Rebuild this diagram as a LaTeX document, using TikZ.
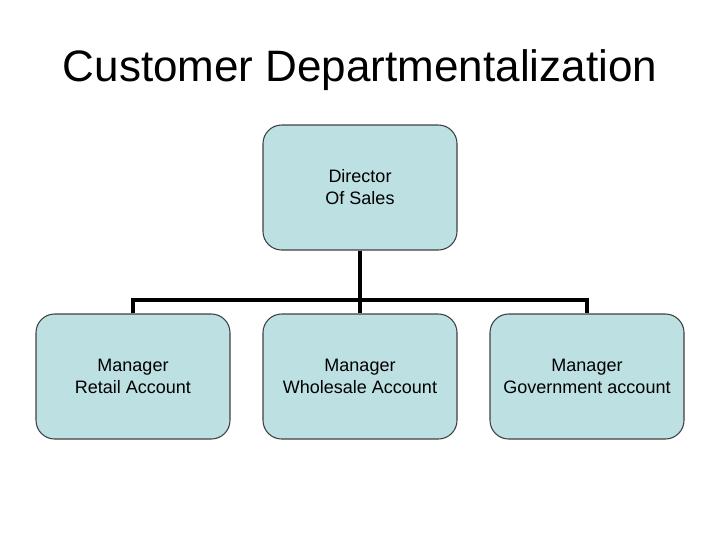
\documentclass[tikz,border=0pt]{standalone}
\usepackage{fontspec}
\setmainfont{Liberation Sans}
\usetikzlibrary{positioning}
\definecolor{boxfill}{HTML}{BDE0E3}
\definecolor{boxline}{HTML}{404040}
\tikzset{
  unit/.style={draw=boxline, fill=boxfill, line width=0.8pt, rounded corners=14pt,
    minimum width=194*0.75pt, minimum height=125*0.75pt, align=center,
    font=\fontsize{13.5}{16.5}\selectfont, inner sep=1pt},
  link/.style={draw=black, line width=3pt},
}
\begin{document}
\begin{tikzpicture}[x=0.75pt,y=-0.75pt]
  \useasboundingbox (0,0) rectangle (720,540);
  \node[font=\fontsize{33}{38}\selectfont] (title) at (360,70) {Customer Departmentalization};

  \node[unit] (dir) at (360,187.5) {Director\\Of Sales};
  \node[unit] (retail) at (133,376.5) {Manager\\Retail Account};
  \node[unit] (whole) at (360,376.5) {Manager\\Wholesale Account};
  \node[unit] (gov) at (587,376.5) {Manager\\Government account};

  \coordinate (bus) at (360,300);
  \draw[link] (dir.south) -- (bus);
  \foreach \n in {retail,whole,gov}
    \draw[link] (bus) -| (\n.north);
\end{tikzpicture}
\end{document}
